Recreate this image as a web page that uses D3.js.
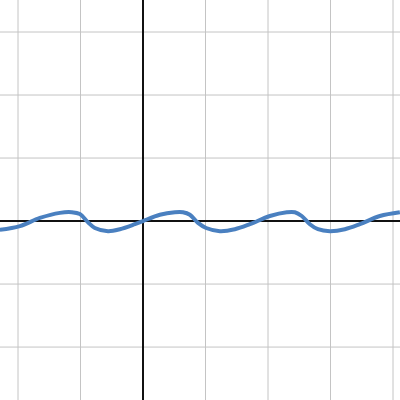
<!DOCTYPE html><html><head><script src="https://cdn.jsdelivr.net/npm/d3@7"></script>
<style>body{margin:0}</style></head><body><svg id="c" width="400" height="400"></svg>
<script>
const xs=[-2.29,-1.97,-1.65,-1.33,-1.14,-1.01,-0.88,-0.77,-0.56,-0.37,-0.13,0,0.27,0.51,0.64,0.75,0.88,1.01,1.23,1.47,1.71,2.03,2.30,2.43,2.54,2.67,2.80,2.99,3.23,3.47,3.79,4.11];
const ys=[-0.14,-0.08,0.05,0.13,0.14,0.11,-0.02,-0.11,-0.16,-0.13,-0.05,0,0.10,0.14,0.14,0.10,-0.03,-0.11,-0.16,-0.13,-0.05,0.08,0.14,0.14,0.08,-0.05,-0.13,-0.16,-0.13,-0.05,0.08,0.14];
const xTicks=[-2,-1,0,1,2,3,4];
const yTicks=[-2,-1,0,1,2,3];
const svg=d3.select("#c");
const x=d3.scaleLinear().domain([-2.288,4.112]).range([0,400]);
const y=d3.scaleLinear().domain([-2.84,3.508]).range([400,0]);
svg.append("rect").attr("width",400).attr("height",400).attr("fill","#fff");
svg.selectAll(".gx").data(xTicks).join("line").attr("x1",d=>x(d)).attr("x2",d=>x(d)).attr("y1",0).attr("y2",400).attr("stroke","#c4c4c4").attr("stroke-width",1);
svg.selectAll(".gy").data(yTicks).join("line").attr("y1",d=>y(d)).attr("y2",d=>y(d)).attr("x1",0).attr("x2",400).attr("stroke","#c4c4c4").attr("stroke-width",1);
svg.append("line").attr("x1",x(0)).attr("x2",x(0)).attr("y1",0).attr("y2",400).attr("stroke","#111").attr("stroke-width",2);
svg.append("line").attr("y1",y(0)).attr("y2",y(0)).attr("x1",0).attr("x2",400).attr("stroke","#111").attr("stroke-width",2);
const pts=xs.map((v,i)=>[v,ys[i]]);
svg.append("path").attr("d",d3.line().x(d=>x(d[0])).y(d=>y(d[1])).curve(d3.curveCatmullRom)(pts)).attr("fill","none").attr("stroke","#4a80c0").attr("stroke-width",4);
</script></body></html>
